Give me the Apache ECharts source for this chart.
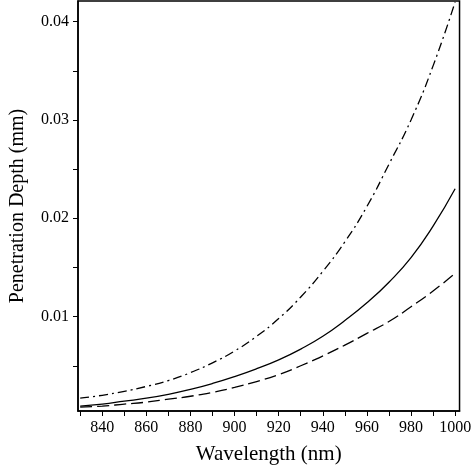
<!DOCTYPE html>
<html><head><meta charset="utf-8">
<script src="https://cdn.jsdelivr.net/npm/echarts@6/dist/echarts.min.js"></script>
<style>html,body{margin:0;background:#fff}#c{width:474px;height:470px}</style>
</head><body><div id="c"></div>
<script>
var wavelengths = [830, 840, 850, 860, 870, 880, 890, 900, 910, 920, 930, 940, 950, 960, 970, 980, 990, 1000];
var dashDot = [.0017, .0020, .0024, .0029, .0035, .0043, .0053, .0065, .0080, .0098, .0120, .0146, .0176, .0212, .0255, .0300, .0355, .0420];
var solid = [.0009, .0011, .0014, .0017, .0021, .0026, .0032, .0039, .0047, .0056, .0067, .0080, .0096, .0114, .0135, .0160, .0192, .0230];
var dashed = [.0008, .0009, .0011, .0013, .0016, .0019, .0023, .0028, .0034, .0041, .0050, .0060, .0071, .0083, .0095, .0110, .0126, .0144];
var xTicks = [830, 840, 850, 860, 870, 880, 890, 900, 910, 920, 930, 940, 950, 960, 970, 980, 990, 1000];
var xLabels = [840, 860, 880, 900, 920, 940, 960, 980, 1000];
var yTicks = [0.005, 0.01, 0.015, 0.02, 0.025, 0.03, 0.035, 0.04];
var yLabels = [0.01, 0.02, 0.03, 0.04];

function pairs(ys) {
    return wavelengths.map(function (x, i) { return [x, ys[i]]; });
}
var font = 'Liberation Serif';
var chart = echarts.init(document.getElementById('c'));
var option = {
    backgroundColor: '#fff',
    animation: false,
    grid: { left: 67, right: 12, top: 1, bottom: 56, show: true, borderColor: '#000', borderWidth: 1.5 },
    xAxis: {
        type: 'value', min: 829, max: 1002,
        name: 'Wavelength (nm)', nameLocation: 'middle', nameGap: 33,
        nameTextStyle: { fontFamily: font, fontSize: 21, color: '#000' },
        axisLine: { lineStyle: { color: '#000', width: 1.5 } },
        axisTick: { customValues: xTicks, length: 5, lineStyle: { color: '#000' } },
        axisLabel: { customValues: xLabels, fontFamily: font, fontSize: 16, color: '#000', margin: 9,
                     formatter: function (v) { return String(v); } },
        splitLine: { show: false }
    },
    yAxis: {
        type: 'value', min: 0.0004, max: 0.0421,
        name: 'Penetration Depth (mm)', nameLocation: 'middle', nameGap: 50,
        nameTextStyle: { fontFamily: font, fontSize: 20, color: '#000' },
        axisLine: { lineStyle: { color: '#000', width: 1.5 } },
        axisTick: { customValues: yTicks, length: 5, lineStyle: { color: '#000' } },
        axisLabel: { customValues: yLabels, fontFamily: font, fontSize: 16, color: '#000', margin: 9 },
        splitLine: { show: false }
    },
    series: [
        { type: 'line', data: pairs(dashDot), smooth: true, symbol: 'none',
          lineStyle: { color: '#000', width: 1.3, type: [9, 4, 2, 4] } },
        { type: 'line', data: pairs(solid), smooth: true, symbol: 'none',
          lineStyle: { color: '#000', width: 1.3 } },
        { type: 'line', data: pairs(dashed), smooth: true, symbol: 'none',
          lineStyle: { color: '#000', width: 1.3, type: [12, 5] } }
    ]
};
chart.setOption(option, true);
</script></body></html>
